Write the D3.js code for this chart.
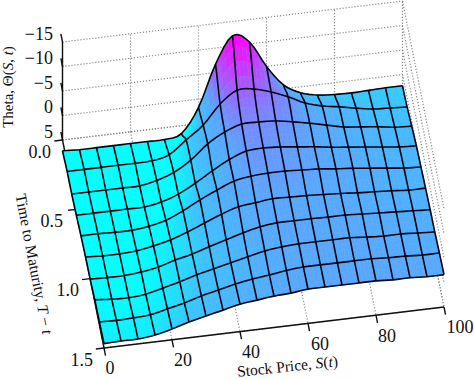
<!DOCTYPE html>
<html><head><meta charset="utf-8">
<script src="https://cdn.jsdelivr.net/npm/d3@7"></script>
<style>html,body{margin:0;padding:0;background:#fff}svg{display:block}text{font-family:"Liberation Serif",serif;fill:#111}</style>
</head><body><svg id="c" width="474" height="379"></svg>
<script>
const stockPrice = d3.range(0,101,5);
const timeToMaturity = d3.range(0,10).map(i=>i/6);
const theta0=[7.2,7.4,7.4,7.4,7.4,7.4,7.4,6.6,1.7,-6.7,-12.1,-10.4,-5.0,-0.8,1.2,2.1,2.4,2.5,2.4,2.3,2.3];
const theta1=[6.7,6.7,6.7,6.7,6.7,6.6,5.8,3.2,0.6,-3.3,-5.7,-5.5,-4.5,-3.1,-1.4,-0.4,0.2,0.9,1.5,1.7,1.9];
const theta2=[6.6,6.6,6.6,6.6,6.6,5.9,4.7,2.6,-0.3,-2.3,-3.5,-3.5,-3.3,-2.7,-2.0,-1.2,-0.4,0,0.4,0.9,1.1];
const theta3=[6.2,6.2,6.2,6.2,6.2,5.6,4.4,2.6,0.5,-1.4,-2.7,-2.9,-2.7,-2.3,-1.9,-1.4,-1.0,-0.6,-0.2,0.2,0.4];
const theta4=[5.7,5.7,5.8,5.8,5.4,4.6,3.1,1.3,-0.3,-1.7,-2.3,-2.5,-2.5,-2.3,-2.1,-1.7,-1.4,-1.0,-0.6,-0.2,0];
const theta5=[5.3,5.5,5.5,5.3,4.7,3.9,2.7,1.3,-0.1,-1.2,-1.6,-2.0,-1.9,-1.8,-1.6,-1.4,-1.1,-0.9,-0.7,-0.4,-0.4];
const theta6=[5.1,5.2,5.2,4.9,4.3,3.3,2.5,1.4,0.4,-0.6,-1.4,-1.8,-1.8,-1.8,-1.7,-1.7,-1.5,-1.3,-1.1,-0.9,-0.7];
const theta7=[4.6,4.9,5,4.7,3.9,3,2,1.2,0.4,-0.4,-1.2,-1.6,-1.8,-1.8,-1.8,-1.8,-1.5,-1.3,-1.3,-1.1,-0.9];
const theta8=[4.4,4.5,4.4,4.2,3.4,2.6,1.6,0.8,0,-0.6,-1,-1.5,-1.8,-1.8,-1.8,-1.8,-1.8,-1.6,-1.5,-1.3,-1.3];
const theta9=[4.1,4,4,3.6,2.8,1.8,1,0.2,-0.6,-1,-1.4,-1.6,-2,-2,-2,-2,-2,-1.8,-1.8,-1.6,-1.6];
const thetaRows=[theta0,theta1,theta2,theta3,theta4,theta5,theta6,theta7,theta8,theta9];
const sTicks=[0,20,40,60,80,100];
const tTicks=[0,0.5,1,1.5];
const zTicks=[-15,-10,-5,0,5];
const sLabelPos=[[110,374],[183,366],[251,358],[320,350],[387,342],[460,333]];
const tLabelPos=[[51,158],[63,227],[79,296],[93,366]];
const colorStops=[5,3.6,1.8,-2,-5.7,-12];
const colorT=[0,.1,.24,.35,.62,1];

const svg=d3.select("#c");
const ox=62.5, oy=140;
const sx=d3.scaleLinear([0,100],[0,340]), sy=d3.scaleLinear([0,100],[0,-41]);
const tx=d3.scaleLinear([0,1.5],[0,41.5]), ty=d3.scaleLinear([0,1.5],[0,208]);
const zy=d3.scaleLinear([5,-15],[0,-98]);
const proj=(s,t,z)=>[ox+sx(s)+tx(t), oy+sy(s)+ty(t)+zy(z)];
const tScale=d3.scaleLinear(colorStops,colorT).clamp(true);
const ramp=d3.interpolateRgb("#00ffff","#ff00ff");
const col=z=>ramp(tScale(z));

// walls and floor
const grid=svg.append("g").attr("fill","none").attr("stroke","#8a8a8a").attr("stroke-width",1.2).attr("stroke-dasharray","1.2 1.8");
const seg=(a,b)=>grid.append("line").attr("x1",a[0]).attr("y1",a[1]).attr("x2",b[0]).attr("y2",b[1]);
sTicks.forEach(s=>{seg(proj(s,0,5),proj(s,0,-15));seg(proj(s,0,5),proj(s,1.5,5));});
tTicks.forEach(t=>{seg(proj(0,t,5),proj(100,t,5));});
zTicks.forEach(z=>{seg(proj(0,0,z),proj(100,0,z));seg(proj(100,0,z),proj(100,1.5,z));});

// axes
const ax=svg.append("g").attr("stroke","#111").attr("stroke-width",1.4).attr("fill","none");
const aseg=(a,b)=>ax.append("line").attr("x1",a[0]).attr("y1",a[1]).attr("x2",b[0]).attr("y2",b[1]);
aseg(proj(0,0,5),proj(0,0,-15));
aseg(proj(0,0,5),proj(0,1.5,5));
aseg(proj(0,1.5,5),proj(100,1.5,5));
sTicks.forEach(s=>aseg(proj(s,1.5,5),proj(s,1.555,5)));
tTicks.forEach(t=>aseg(proj(0,t,5),proj(-2.4,t,5)));
zTicks.forEach(z=>aseg(proj(0,0,z),proj(0,-0.058,z)));

// surface: render subdivision of the mesh for smooth shading and curved lines
const N=4;
function cr(a,i,f){const g=k=>a[Math.max(0,Math.min(a.length-1,k))];
 const p0=g(i-1),p1=g(i),p2=g(i+1),p3=g(i+2);
 return .5*((2*p1)+(-p0+p2)*f+(2*p0-5*p1+4*p2-p3)*f*f+(-p0+3*p1-3*p2+p3)*f*f*f);}
const fineAlong=a=>{const o=[];for(let i=0;i<a.length-1;i++)for(let n=0;n<N;n++)o.push(cr(a,i,n/N));o.push(a[a.length-1]);return o;};
const rowsFine=thetaRows.map(fineAlong);
const nc=rowsFine[0].length;
const colsFine=d3.range(nc).map(c=>fineAlong(rowsFine.map(r=>r[c])));
const nr=colsFine[0].length;
const Sf=i=>stockPrice[0]+(i/(nc-1))*100, Tf=j=>(j/(nr-1))*1.5;
const Z=(i,j)=>colsFine[i][j];
const P=(i,j)=>proj(Sf(i),Tf(j),Z(i,j));
const cells=[];
for(let j=0;j<nr-1;j++)for(let i=0;i<nc-1;i++)cells.push({i,j});
svg.append("g").selectAll("path").data(cells).join("path")
 .attr("d",d=>"M"+[P(d.i,d.j),P(d.i+1,d.j),P(d.i+1,d.j+1),P(d.i,d.j+1)].join("L")+"Z")
 .each(function(d){const c=col((Z(d.i,d.j)+Z(d.i+1,d.j)+Z(d.i,d.j+1)+Z(d.i+1,d.j+1))/4);
   d3.select(this).attr("fill",c).attr("stroke",c).attr("stroke-width",.6);});
const line=d3.line();
const mesh=svg.append("g").attr("fill","none").attr("stroke","#05050f").attr("stroke-width",1.6).attr("stroke-linejoin","round");
d3.range(0,nr,N).forEach(j=>mesh.append("path").attr("d",line(d3.range(nc).map(i=>P(i,j)))));
d3.range(0,nc,N).forEach(i=>mesh.append("path").attr("d",line(d3.range(nr).map(j=>P(i,j)))));

// tick labels
const lab=(x,y,t,a,fs)=>svg.append("text").attr("x",x).attr("y",y).attr("text-anchor",a).attr("font-size",fs||18).text(t);
zTicks.forEach(z=>{const p=proj(0,0,z);lab(53,p[1]-2.5,String(z).replace("-","\u2212"),"end");});
tTicks.forEach((t,i)=>lab(tLabelPos[i][0],tLabelPos[i][1],t.toFixed(1),"end"));
sTicks.forEach((s,i)=>lab(sLabelPos[i][0],sLabelPos[i][1],String(s),"middle"));

// axis titles
function title(x,y,rot,fs,parts){const t=svg.append("text").attr("text-anchor","middle").attr("font-size",fs)
 .attr("transform",`translate(${x},${y}) rotate(${rot})`);
 parts.forEach(p=>t.append("tspan").attr("font-style",p[1]?"italic":"normal").text(p[0]));}
title(13,87,-90,15,[["Theta, \u0398(",0],["S",1],[", ",0],["t",1],[")",0]]);
title(29,265,79,15.5,[["Time to Maturity, ",0],["T",1],[" \u2212 ",0],["t",1]]);
title(288,371.5,-6,15.5,[["Stock Price, ",0],["S",1],["(",0],["t",1],[")",0]]);
</script></body></html>
